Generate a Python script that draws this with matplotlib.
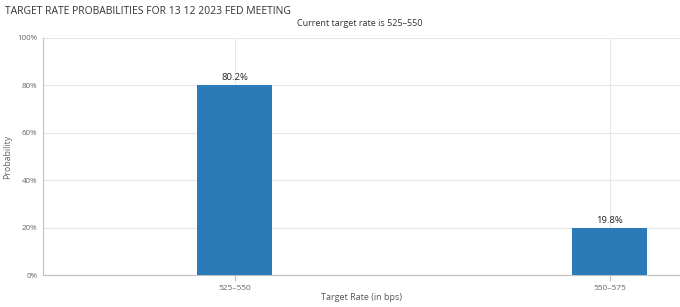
import matplotlib
matplotlib.use("Agg")
import matplotlib.pyplot as plt
import numpy as np

plt.rcParams['font.family'] = ['Open Sans', 'DejaVu Sans']

# data
rates = ['525-550', '550-575']
probs = [80.2, 19.8]
yticks = [0, 20, 40, 60, 80, 100]

bar_col = '#2b7bb9'
grid_col = '#e6e6e6'
axis_col = '#c0c0c0'

fig = plt.figure(figsize=(6.8, 3.07), dpi=100)
ax = fig.add_axes([43/680, 1 - 275/307, 1 - 43/680, (275 - 38)/307])

x = np.arange(len(rates))
ax.bar(x, probs, width=0.2, color=bar_col, zorder=3)
for xi, p in zip(x, probs):
    ax.text(xi, p + 1.3, f'{p:.1f}%', ha='center', va='bottom',
            fontsize=6.8, color='#222222', zorder=4)

ax.set_xlim(-0.512, 1.187)
ax.set_ylim(0, 100)
ax.set_yticks(yticks)
ax.set_yticklabels([f'{t}%' for t in yticks])
ax.set_xticks(x)
ax.set_xticklabels([r.replace('-', '\u2013') for r in rates])

ax.grid(True, color=grid_col, lw=0.8, zorder=0)
for s in ['top', 'right']:
    ax.spines[s].set_visible(False)
ax.spines['left'].set_color(axis_col)
ax.spines['bottom'].set_color(axis_col)
ax.tick_params(axis='y', length=0, labelsize=5.8, labelcolor='#666666', pad=4)
ax.tick_params(axis='x', length=4, color=axis_col, labelsize=6,
               labelcolor='#666666', pad=3)

ax.set_ylabel('Probability', fontsize=6.3, color='#666666')
# put the y label where the reference has it (about 5-12 px from the left edge)
ax.yaxis.set_label_coords(-31/637, 0.5)
ax.set_xlabel('Target Rate (in bps)', fontsize=6.5, color='#555555', labelpad=1)

fig.text(5/680, 1 - 11/307, 'TARGET RATE PROBABILITIES FOR 13 12 2023 FED MEETING',
         fontsize=7.5, color='#333333', va='center', ha='left')
fig.text(360/680, 1 - 23/307, 'Current target rate is 525\u2013550',
         fontsize=6.5, color='#333333', va='center', ha='center')

fig.savefig('out.png', dpi=100)
